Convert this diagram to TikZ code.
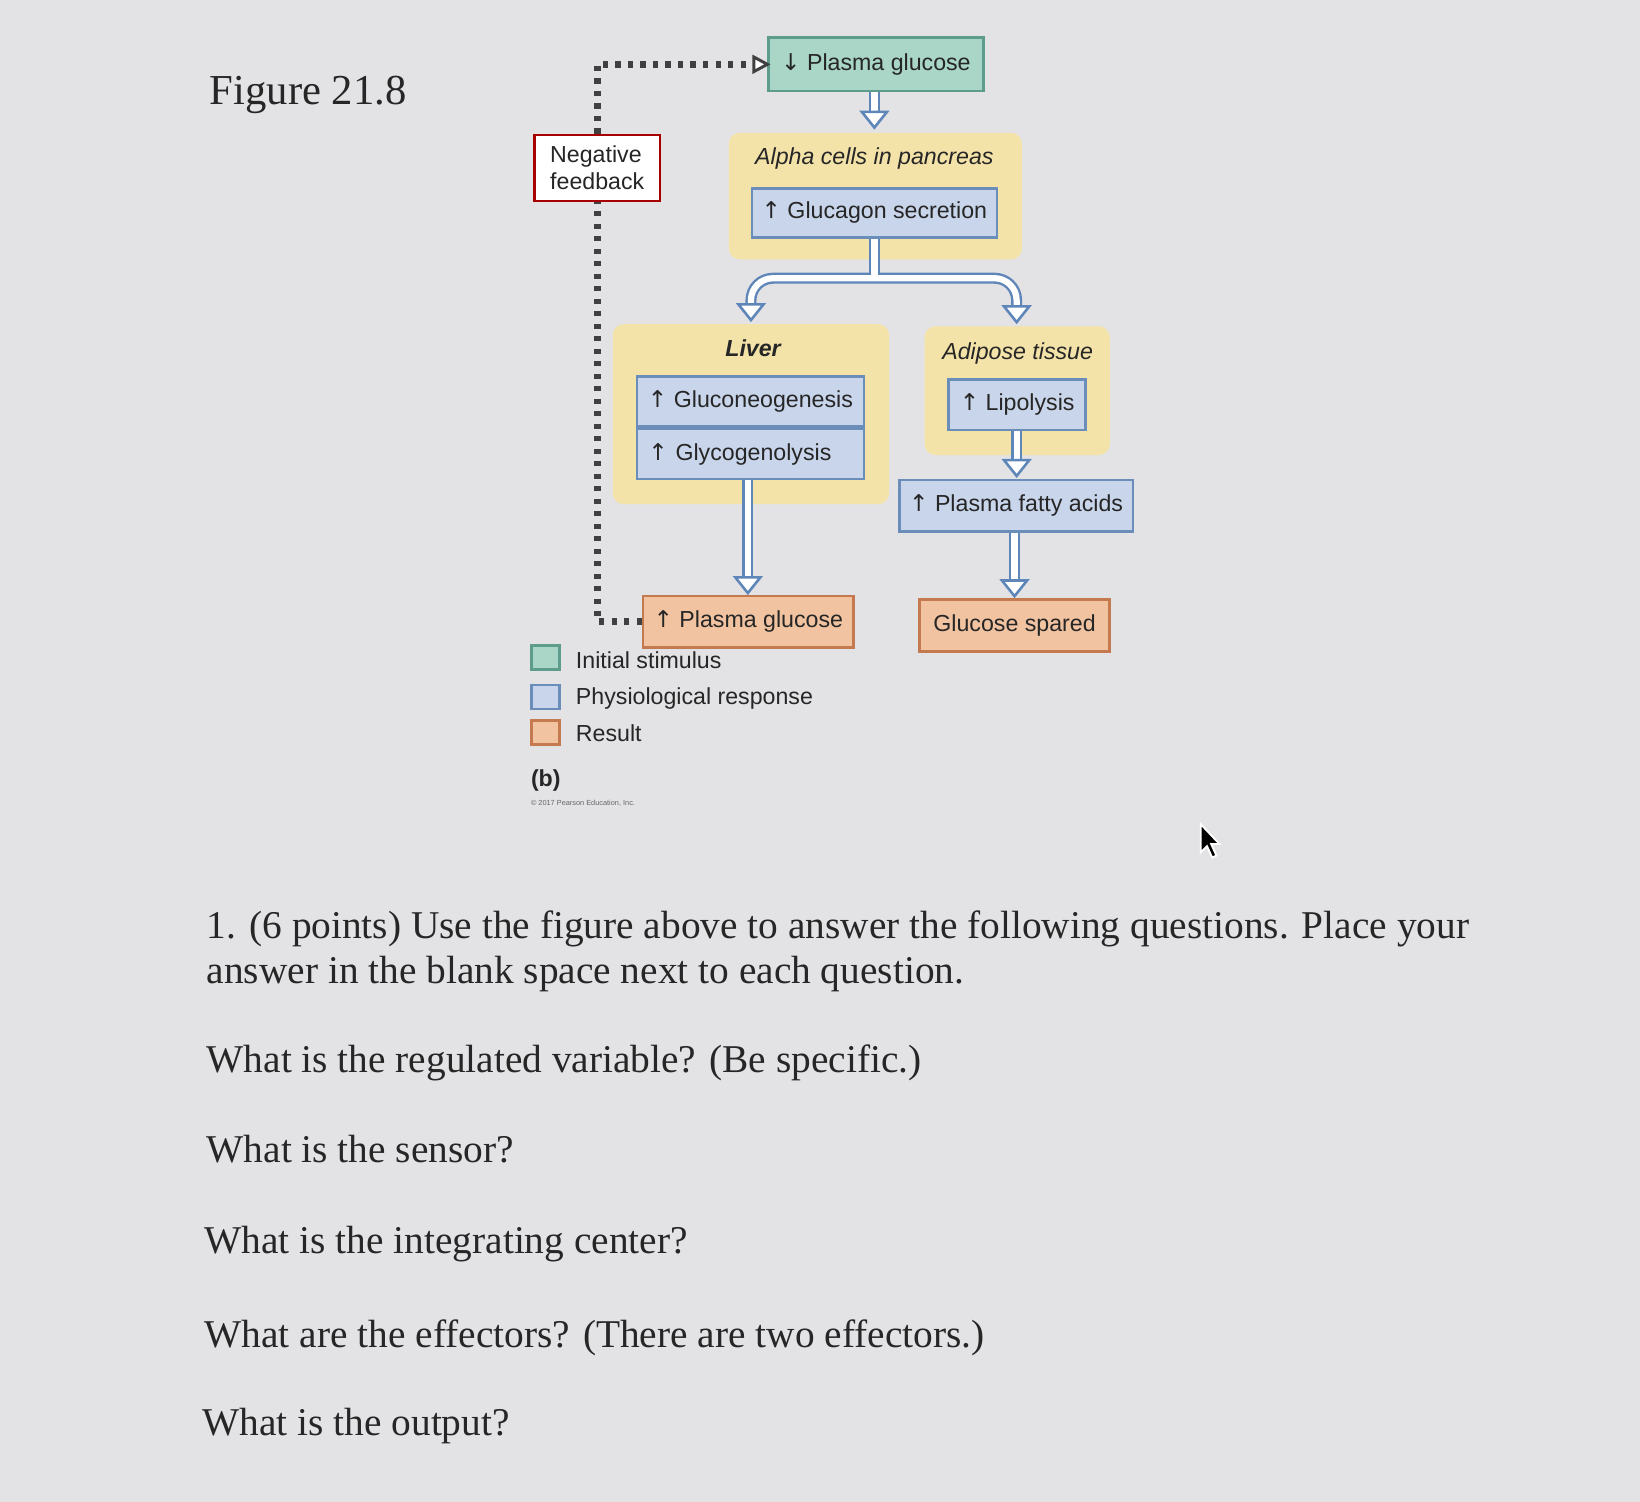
\documentclass[tikz,border=0pt]{standalone}
\usepackage{fontspec}
\setmainfont{Liberation Serif}
\newfontfamily\dg{Liberation Sans}
\newfontfamily\ar{DejaVu Sans}
\usetikzlibrary{arrows.meta}
\definecolor{bg}{HTML}{E3E3E5}
\definecolor{grn}{HTML}{A9D6C6}
\definecolor{grnb}{HTML}{5E9C8C}
\definecolor{blu}{HTML}{C8D5EA}
\definecolor{blub}{HTML}{6A8DBA}
\definecolor{org}{HTML}{F1C3A0}
\definecolor{orgb}{HTML}{C47A4E}
\definecolor{yel}{HTML}{F4E3A9}
\definecolor{arr}{HTML}{5F86B8}
\tikzset{
 box/.style={draw, line width=0.7pt, inner sep=0pt, font=\dg\fontsize{6.3}{7.5}\selectfont, text=black!85},
 gbox/.style={box, fill=grn, draw=grnb},
 bbox/.style={box, fill=blu, draw=blub},
 obox/.style={box, fill=org, draw=orgb},
 region/.style={fill=yel, rounded corners=3pt, inner sep=0pt},
 dots/.style={line width=2pt, black!75, dash pattern=on 1.4pt off 2pt},
 outer/.style={line width=3pt, arr, line join=round},
 inner/.style={line width=1.7pt, white, line join=round},
 q/.style={anchor=base west, font=\fontsize{10.7}{12}\selectfont, text=black!85, inner sep=0pt},
 lab/.style={font=\dg\fontsize{6.3}{7.5}\selectfont, text=black!85, inner sep=0pt},
}
\newcommand\up{{\ar\char"2191}}
\newcommand\dn{{\ar\char"2193}}
\newcommand\headat[1]{\filldraw[fill=white,draw=arr,line width=0.7pt] ([shift={(-12,-15)}]#1) -- ([shift={(12,-15)}]#1) -- (#1) -- cycle;}
\begin{document}
\begin{tikzpicture}[x=0.01cm,y=-0.01cm]
\fill[bg] (0,0) rectangle (1568,1436);
\useasboundingbox (0,0) rectangle (1568,1436);
\node[anchor=base west, font=\fontsize{11.6}{13}\selectfont, text=black!85, inner sep=0pt] (fig) at (200,100) {Figure 21.8};
% regions
\node[region, minimum width=2.8cm, minimum height=1.21cm] (alpha) at (837,187.5) {};
\node[region, minimum width=2.64cm, minimum height=1.72cm] (liverr) at (718,396) {};
\node[region, minimum width=1.77cm, minimum height=1.23cm] (adip) at (972.5,373.5) {};
\node[lab, font=\dg\itshape\fontsize{6.3}{7.5}\selectfont] (alphat) at (836,152) {Alpha cells in pancreas};
\node[lab, font=\dg\bfseries\itshape\fontsize{6.3}{7.5}\selectfont] (livert) at (720,333) {Liver};
\node[lab, font=\dg\itshape\fontsize{6.3}{7.5}\selectfont] (adipt) at (973,338) {Adipose tissue};
% boxes
\node[gbox, minimum width=2.05cm, minimum height=0.51cm] (top) at (837.5,61.5) {\dn\ Plasma glucose};
\node[box, draw=red!65!black, fill=white, minimum width=1.2cm, minimum height=0.63cm, align=left] (neg) at (571,160.5) {Negative\\feedback};
\node[bbox, minimum width=2.34cm, minimum height=0.47cm] (gluc) at (836,203.5) {\up\ Glucagon secretion};
\node[bbox, minimum width=2.17cm, minimum height=0.48cm] (gneo) at (717.5,384) {\up\ Gluconeogenesis};
\node[bbox, minimum width=2.17cm, minimum height=0.48cm, text width=1.95cm] (gly) at (717.5,434) {\up\ Glycogenolysis};
\node[bbox, minimum width=1.31cm, minimum height=0.48cm] (lip) at (972.5,387) {\up\ Lipolysis};
\node[bbox, minimum width=2.23cm, minimum height=0.49cm] (fat) at (971.5,483.5) {\up\ Plasma fatty acids};
\node[obox, minimum width=1.82cm, minimum height=0.5cm] (spared) at (970,598) {Glucose spared};
\node[obox, minimum width=2.01cm, minimum height=0.49cm] (res) at (715.5,594.5) {\up\ Plasma glucose};
% coordinates for block arrows
\coordinate (t1) at (836,122);
\coordinate (j) at (836,266);
\coordinate (t2) at (718,306);
\coordinate (t3) at (972,308);
\coordinate (t4) at (972,455);
\coordinate (t5) at (970,570);
\coordinate (t6) at (715,567);
\foreach \s in {outer,inner}{
 \draw[\s] (top.south -| t1) -- ([yshift=15*0.01cm]t1);
 \draw[\s] (gluc.south -| j) -- (j);
 \draw[\s, rounded corners=6pt] ([yshift=15*0.01cm]t2) |- (j) -| ([yshift=15*0.01cm]t3);
 \draw[\s] (lip.south -| t4) -- ([yshift=15*0.01cm]t4);
 \draw[\s] (fat.south -| t5) -- ([yshift=15*0.01cm]t5);
 \draw[\s] (gly.south -| t6) -- ([yshift=15*0.01cm]t6);
}
\headat{t1}\headat{t2}\headat{t3}\headat{t4}\headat{t5}\headat{t6}
% feedback
\draw[dots] (res.west) -| (neg.south);
\draw[dots] (neg.north) |- ([xshift=-12*0.01cm]top.west);
\draw[line width=0.8pt, black!75, fill=white] ([xshift=-13*0.01cm,yshift=7*0.01cm]top.west) -- (top.west) -- ([xshift=-13*0.01cm,yshift=-7*0.01cm]top.west) -- cycle;
% legend
\node[gbox, minimum width=0.27cm, minimum height=0.23cm] (lg1) at (521.5,628.5) {};
\node[bbox, minimum width=0.27cm, minimum height=0.23cm] (lg2) at (521.5,666.5) {};
\node[obox, minimum width=0.27cm, minimum height=0.23cm] (lg3) at (521.5,700.5) {};
\node[lab, anchor=west] (l1) at (550,631) {Initial stimulus};
\node[lab, anchor=west] (l2) at (550,668) {Physiological response};
\node[lab, anchor=west] (l3) at (550,701) {Result};
\node[lab, anchor=west, font=\dg\bfseries\fontsize{6.3}{7.5}\selectfont] (b) at (507,746) {(b)};
\node[lab, anchor=west, font=\dg\fontsize{2}{2.5}\selectfont, text=black!60] (cp) at (507,768) {\textcopyright\ 2017 Pearson Education, Inc.};
% cursor
\filldraw[black, draw=white, line width=0.5pt] (1148,788) -- (1148,815) -- (1154,809) -- (1159,820) -- (1163,818) -- (1158,807) -- (1166,807) -- cycle;
% questions
\node[q] (q0) at (197,897) {1. (6 points) Use the figure above to answer the following questions. Place your};
\node[q] (q0b) at (197,940) {answer in the blank space next to each question.};
\node[q] (q1) at (197,1025) {What is the regulated variable? (Be specific.)};
\node[q] (q2) at (197,1111) {What is the sensor?};
\node[q] (q3) at (195,1198) {What is the integrating center?};
\node[q] (q4) at (195,1288) {What are the effectors? (There are two effectors.)};
\node[q] (q5) at (193,1372) {What is the output?};
\end{tikzpicture}
\end{document}
